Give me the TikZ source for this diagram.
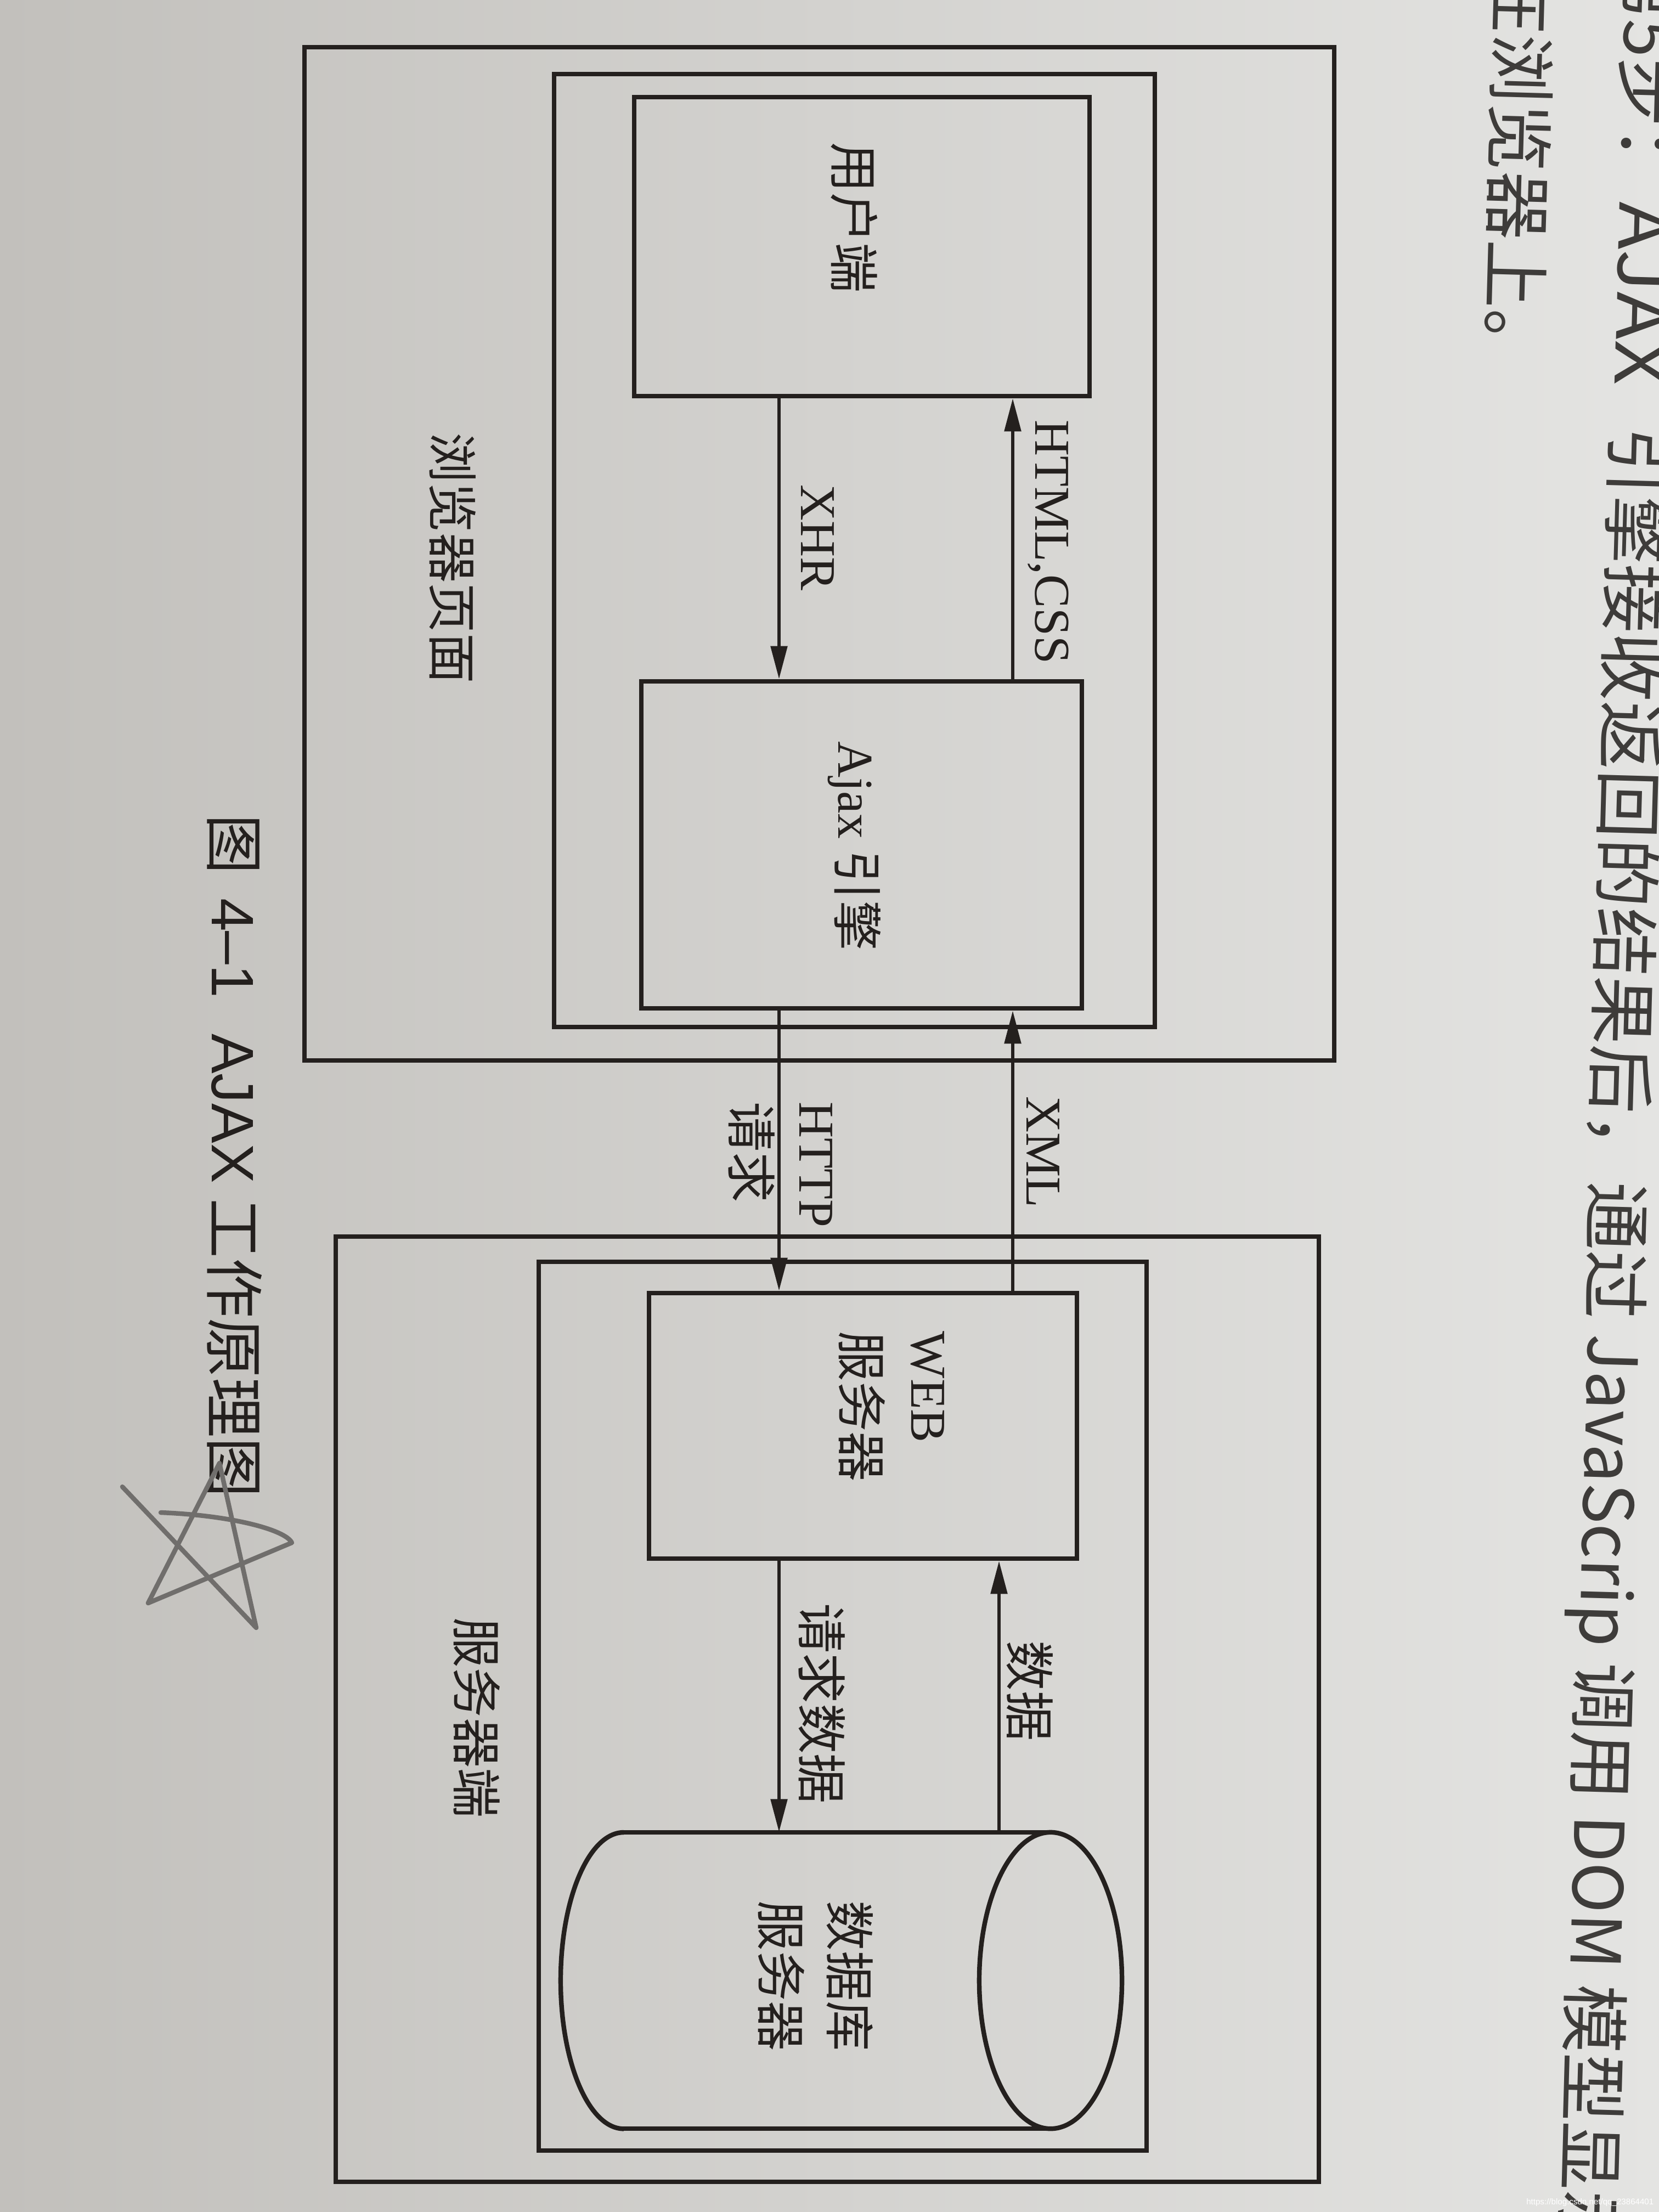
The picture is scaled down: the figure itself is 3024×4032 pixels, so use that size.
\documentclass[tikz,border=0pt]{standalone}
\usepackage{graphicx}
\usepackage{fontspec}
\setmainfont{Liberation Serif}
\newfontfamily\cjk{Noto Sans CJK SC}
\newfontfamily\lsans{Liberation Sans}
\usetikzlibrary{fit,arrows.meta}
\definecolor{paperL}{RGB}{194,192,188}
\definecolor{paperR}{RGB}{228,228,226}
\definecolor{ink}{RGB}{36,32,30}
\definecolor{pencil}{RGB}{112,110,108}
\definecolor{printgray}{RGB}{62,60,58}
\begin{document}
\begin{tikzpicture}[x=0.01cm,y=-0.01cm,
  box/.style={draw=ink, line width=2.5pt, inner sep=0pt},
  hidden/.style={inner sep=0pt},
  cyl/.style={draw=ink, line width=2.4pt},
  link/.style={draw=ink, line width=1.6pt, -{Triangle[length=0.6cm, width=0.3cm]}},
  lbl/.style={text=ink, rotate=-90, inner sep=0pt, font=\fontsize{26}{35.5}\selectfont},
  zh/.style={lbl, font=\fontsize{26}{35.5}\selectfont\cjk},
  star/.style={draw=pencil, line width=2.4pt, line cap=round, line join=round}]
\useasboundingbox (0,0) rectangle (3024,4032);
\clip (0,0) rectangle (3024,4032);
\shade[left color=paperL, right color=paperR] (0,0) rectangle (3024,4032);

% page text
\node[lbl, rotate=-1.6, anchor=west, text=printgray, font=\fontsize{35.6}{40}\selectfont\cjk] (pline1) at (3004,-90)
  {第5步：\hspace{0.1em}\scalebox{1.15}[1]{AJAX}\hspace{0.6em}引擎接收返回的结果后，通过 JavaScrip 调用 DOM 模型显示};
\node[lbl, rotate=-1.6, anchor=west, text=printgray, font=\fontsize{35.6}{40}\selectfont\cjk] (pline2) at (2779,-63)
  {在浏览器上。};

% browser side
\node[box, fit={(555,86) (2432,1933)}] (browser) {};
\node[box, fit={(1010,135) (2105,1872)}] (page) {};
\node[box, fit={(1156,177) (1986,722)}] (user) {};
\node[box, fit={(1169,1242) (1972,1838)}] (ajax) {};
\node[zh] (browsertxt) at (825,1017) {浏览器页面};
\node[zh] (usertxt) at (1557,397) {用户端};
\node[zh] (ajaxtxt) at (1557,1542) {{\rmfamily Ajax} 引擎};

% server side
\node[box, fit={(612,2254) (2404,3977)}] (server) {};
\node[box, fit={(982,2300) (2090,3920)}] (srvin) {};
\node[box, fit={(1183,2357) (1963,2841)}] (web) {};
\node[zh, align=left, anchor=west] (webtxt) at (1625,2426) {{\rmfamily WEB}\\服务器};
\node[zh] (servertxt) at (869,3131) {服务器端};

% database cylinder
\node[hidden, fit={(1022,3340) (2045,3880)}] (db) {};
\draw[cyl] (1137,3340) -- (1915,3340);
\draw[cyl] (1137,3880) -- (1915,3880);
\draw[cyl] (1137,3340) arc[start angle=90, end angle=270, x radius=1.15cm, y radius=2.7cm];
\draw[cyl] (1915,3610) ellipse[x radius=1.3cm, y radius=2.7cm];
\node[zh, align=center] (dbtxt) at (1487,3602) {数据库\\服务器};

% connector columns
\coordinate (c1) at (1420,0);
\coordinate (c2) at (1846,0);
\coordinate (c3) at (1821,0);

\draw[link] (user.south -| c1) -- (ajax.north -| c1);
\draw[link] (ajax.north -| c2) -- (user.south -| c2);
\draw[link] (ajax.south -| c1) -- (web.north -| c1);
\draw[link] (web.north -| c2) -- (ajax.south -| c2);
\draw[link] (web.south -| c1) -- (db.north -| c1);
\draw[link] (db.north -| c3) -- (web.south -| c3);

\node[lbl] (xhr) at (1490,980) {XHR};
\node[lbl] (htmlcss) at (1911,988) {HTML,CSS};
\node[lbl, anchor=west] (http) at (1487,2008) {HTTP};
\node[zh, anchor=west] (req) at (1370,2008) {请求};
\node[lbl] (xml) at (1901,2100) {XML};
\node[zh] (reqdata) at (1498,3105) {请求数据};
\node[zh] (data) at (1877,3082) {数据};

% caption
\node[lbl, anchor=east, font=\fontsize{31}{36}\selectfont] (caption) at (428,2730)
  {{\cjk 图}\hspace{0.4em}{\lsans 4–1}\hspace{0.6em}{\lsans AJAX}\hspace{0.25em}{\cjk 工作原理图}};

% pencil star
\coordinate (sA) at (223,2710);
\coordinate (sB) at (467,2967);
\coordinate (sC) at (400,2667);
\coordinate (sD) at (270,2922);
\coordinate (sE) at (532,2812);
\coordinate (sF) at (293,2757);
\draw[star] (sA) -- (sB) -- (sC) -- (sD) -- (sE) .. controls (520,2788) and (420,2762) .. (sF);

% watermark
\node[inner sep=0pt, anchor=base east, text=white, font=\fontsize{4.3}{5}\selectfont\lsans] (wm) at (3015,4018) {https://blog.csdn.net/qq\_23864401};
\end{tikzpicture}
\end{document}
